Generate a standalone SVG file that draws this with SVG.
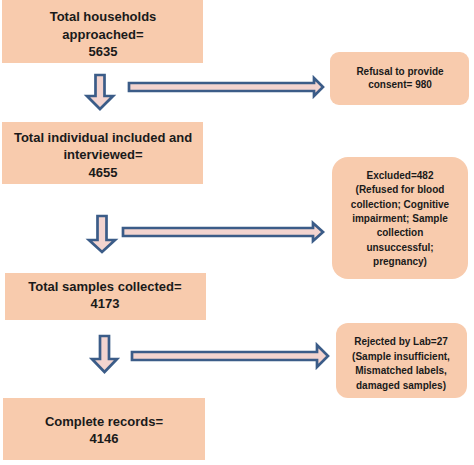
<svg xmlns="http://www.w3.org/2000/svg" width="474" height="465" viewBox="0 0 474 465">
<style>
.box{fill:#F8CBAD;}
.t{font-family:"Liberation Sans",Arial,sans-serif;font-weight:bold;font-size:13px;fill:#1a1a1a;text-anchor:middle;}
.s{font-family:"Liberation Sans",Arial,sans-serif;font-weight:bold;font-size:10px;fill:#1a1a1a;text-anchor:middle;}
.arr{fill:#F3D4CF;stroke:#3B5C88;stroke-width:2.7;stroke-linejoin:miter;}
</style>
<rect width="474" height="465" fill="#ffffff"/>
<g id="n1"><rect class="box" x="2" y="0" width="201" height="63"/>
<text class="t" x="103" y="21">Total households</text>
<text class="t" x="103" y="38.5">approached=</text>
<text class="t" x="103" y="56">5635</text></g>
<g id="n2"><rect class="box" x="2" y="122" width="201" height="62"/>
<text class="t" x="103" y="142">Total individual included and</text>
<text class="t" x="103" y="159">interviewed=</text>
<text class="t" x="103" y="177">4655</text></g>
<g id="n3"><rect class="box" x="5" y="273" width="201" height="47"/>
<text class="t" x="105" y="291">Total samples collected=</text>
<text class="t" x="105" y="308">4173</text></g>
<g id="n4"><rect class="box" x="3" y="398" width="202" height="62"/>
<text class="t" x="104" y="426">Complete records=</text>
<text class="t" x="104" y="443">4146</text></g>
<g id="r1"><rect class="box" x="330" y="52" width="139" height="53" rx="9"/>
<text class="s" x="400" y="75">Refusal to provide</text>
<text class="s" x="400" y="88">consent= 980</text></g>
<g id="r2"><rect class="box" x="332" y="157" width="136" height="122" rx="16"/>
<text class="s" x="400" y="179">Excluded=482</text>
<text class="s" x="400" y="193.3">(Refused for blood</text>
<text class="s" x="400" y="207.6">collection; Cognitive</text>
<text class="s" x="400" y="222">impairment; Sample</text>
<text class="s" x="400" y="236.3">collection</text>
<text class="s" x="400" y="250.6">unsuccessful;</text>
<text class="s" x="400" y="265">pregnancy)</text></g>
<g id="r3"><rect class="box" x="336" y="323" width="131" height="75" rx="12"/>
<text class="s" x="401" y="345">Rejected by Lab=27</text>
<text class="s" x="401" y="360">(Sample insufficient,</text>
<text class="s" x="401" y="374">Mismatched labels,</text>
<text class="s" x="401" y="389">damaged samples)</text></g>
<g id="connectors">
<polygon class="arr" points="95.5,75 104.5,75 104.5,96 113,96 100,109 87,96 95.5,96"/>
<polygon class="arr" points="97.5,216 106.5,216 106.5,240 115,240 102,252 89,240 97.5,240"/>
<polygon class="arr" points="100,336 109,336 109,359 117,359 104.5,372 92,359 100,359"/>
<polygon class="arr" points="129,83 314,83 314,78 323,87 314,96 314,91 129,91"/>
<polygon class="arr" points="123,228 313,228 313,223 323,232 313,241 313,236 123,236"/>
<polygon class="arr" points="132,352 317,352 317,345 328,356 317,367 317,360 132,360"/>
</g>
</svg>
